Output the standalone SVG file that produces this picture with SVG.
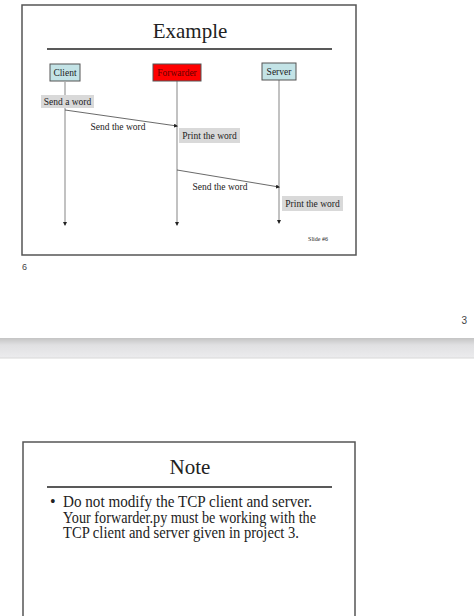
<svg xmlns="http://www.w3.org/2000/svg" width="474" height="616" viewBox="0 0 474 616">
<style>
.serif{font-family:"Liberation Serif","Times New Roman",serif;fill:#222}
.frame{fill:#fff;stroke:#555;stroke-width:1.5}
.hd{stroke:#222;stroke-width:1.5}
.actor{stroke:#555;stroke-width:1}
.life{stroke:#999;stroke-width:1.2;fill:none}
.msg{stroke:#444;stroke-width:0.8;fill:none}
.lbl{fill:#d9d9d9}
.sm{font-size:9.5px}
.body{font-size:16px}
</style>
<defs>
<marker id="ah" markerWidth="4" markerHeight="4" refX="3" refY="2" orient="auto" markerUnits="userSpaceOnUse">
<path d="M0,0 L4,2 L0,4 Z" fill="#222"/>
</marker>
<linearGradient id="band" x1="0" y1="0" x2="0" y2="1">
<stop offset="0" stop-color="#c4c4c4"/>
<stop offset="0.35" stop-color="#e0e0e2"/>
<stop offset="1" stop-color="#ececee"/>
</linearGradient>
</defs>
<rect width="474" height="616" fill="#fff"/>

<g id="slide1">
<rect class="frame" x="22" y="5" width="334" height="250"/>
<text class="serif" x="190" y="38" font-size="21" text-anchor="middle">Example</text>
<line class="hd" x1="47" y1="49" x2="332" y2="49"/>
<text class="serif" x="318" y="241" font-size="6" text-anchor="middle">Slide #6</text>
</g>

<g id="connectors">
<line class="life" x1="65" y1="82" x2="65" y2="225" marker-end="url(#ah)"/>
<line class="life" x1="177" y1="81" x2="177" y2="225" marker-end="url(#ah)"/>
<line class="life" x1="279" y1="80" x2="279" y2="223" marker-end="url(#ah)"/>
<line class="msg" x1="65" y1="110" x2="177" y2="126" marker-end="url(#ah)"/>
<line class="msg" x1="177" y1="170" x2="279" y2="187" marker-end="url(#ah)"/>
<text class="serif sm" x="118" y="130" text-anchor="middle">Send the word</text>
<text class="serif sm" x="220" y="190" text-anchor="middle">Send the word</text>
</g>

<g id="client">
<rect class="actor" x="50" y="64" width="30" height="17" fill="#c3e3e6"/>
<text class="serif sm" x="65" y="76" text-anchor="middle">Client</text>
</g>
<g id="forwarder">
<rect class="actor" x="153" y="64" width="48" height="17" fill="#ff0000"/>
<text class="serif sm" x="177" y="76" text-anchor="middle" style="fill:#600">Forwarder</text>
</g>
<g id="server">
<rect class="actor" x="262" y="63" width="34" height="17" fill="#c3e3e6"/>
<text class="serif sm" x="279" y="74.5" text-anchor="middle">Server</text>
</g>
<g id="send-a-word">
<rect class="lbl" x="41" y="95" width="53" height="13"/>
<text class="serif sm" x="67.5" y="105" text-anchor="middle">Send a word</text>
</g>
<g id="print1">
<rect class="lbl" x="179" y="128" width="61" height="15"/>
<text class="serif sm" x="209.5" y="139" text-anchor="middle">Print the word</text>
</g>
<g id="print2">
<rect class="lbl" x="282" y="196" width="61" height="15"/>
<text class="serif sm" x="312.5" y="207" text-anchor="middle">Print the word</text>
</g>

<g id="page">
<text x="22" y="270" font-family="'Liberation Sans','DejaVu Sans',sans-serif" font-size="9" fill="#444">6</text>
<text x="467" y="324" font-family="'Liberation Sans','DejaVu Sans',sans-serif" font-size="10" fill="#444" text-anchor="end">3</text>
<rect x="0" y="338" width="474" height="20" fill="url(#band)"/>
<line x1="0" y1="358" x2="474" y2="358" stroke="#d8d8d8" stroke-width="1"/>
</g>

<g id="slide2">
<rect class="frame" x="23" y="442" width="332" height="190"/>
<text class="serif" x="190" y="474" font-size="21" text-anchor="middle">Note</text>
<line class="hd" x1="47" y1="487" x2="332" y2="487"/>
<text class="serif body" x="50" y="507">•</text>
<text class="serif body" x="63" y="507" textLength="249" lengthAdjust="spacingAndGlyphs">Do not modify the TCP client and server.</text>
<text class="serif body" x="63" y="522.5" textLength="253" lengthAdjust="spacingAndGlyphs">Your forwarder.py must be working with the</text>
<text class="serif body" x="63" y="538" textLength="236" lengthAdjust="spacingAndGlyphs">TCP client and server given in project 3.</text>
</g>
</svg>
